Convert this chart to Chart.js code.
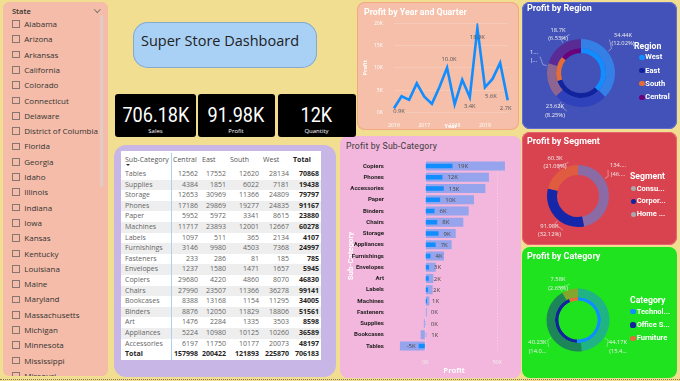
<!DOCTYPE html>
<html>
<head>
<meta charset="utf-8">
<script src="https://cdn.jsdelivr.net/npm/chart.js@4.4.1/dist/chart.umd.min.js"></script>
<style>
html,body{margin:0;padding:0}
body{width:680px;height:381px;background:#f1de91;position:relative;overflow:hidden;font-family:"Open Sans",sans-serif}
.p{position:absolute;box-sizing:border-box;overflow:hidden}
.t{position:absolute;white-space:nowrap}
canvas{position:absolute;left:0;top:0}
.wt{font-family:Roboto,sans-serif;font-weight:bold;color:#fff}
</style>
</head>
<body>
<div id="slicer" class="p" style="left:3px;top:2px;width:105px;height:374px;background:#f5bda9;border-radius:6px;"></div>
<div id="titlebox" class="p" style="left:133px;top:22px;width:184px;height:46px;background:#a9d1f6;box-shadow:inset 0 0 0 1px #86a9cc;border-radius:15px;"><div class="t" style="left:8px;top:8.5px;font-size:14.5px;line-height:20px;color:#222">Super Store Dashboard</div></div>
<div id="matrixPanel" class="p" style="left:114px;top:145px;width:222px;height:232px;background:#c8b7e6;border-radius:12px;"></div>
<div id="linePanel" class="p" style="left:357px;top:2px;width:162px;height:128px;background:#f5bfa9;box-shadow:inset 0 0 0 1px #f1a983;border-radius:8px"><canvas id="lineC" width="162" height="128"></canvas><div class="t wt" style="left:7px;top:3.7px;font-size:8.8px;line-height:12px">Profit by Year and Quarter</div></div>
<div id="barPanel" class="p" style="left:340px;top:136px;width:181px;height:242px;background:#f3b6dc;border-radius:8px"><canvas id="barC" width="180" height="226" style="top:16px"></canvas><div class="t" style="left:6px;top:4.2px;font-family:Roboto,sans-serif;font-size:8.7px;line-height:12px;color:#3a3a3a;letter-spacing:0.2px">Profit by Sub-Category</div></div>
<div id="regionPanel" class="p" style="left:522px;top:2px;width:155px;height:127px;background:#4352b8;box-shadow:inset 0 0 0 1px #5f6ed2;border-radius:8px"><canvas id="regionC" width="155" height="127"></canvas><div class="t wt" style="left:5px;top:0px;font-size:9px;line-height:12px">Profit by Region</div></div>
<div id="segmentPanel" class="p" style="left:522px;top:132px;width:155px;height:113px;background:#d9434f;box-shadow:inset 0 0 0 1px #e46570;border-radius:8px"><canvas id="segmentC" width="155" height="113"></canvas><div class="t wt" style="left:5px;top:3px;font-size:9px;line-height:12px">Profit by Segment</div></div>
<div id="categoryPanel" class="p" style="left:522px;top:247px;width:155px;height:131px;background:#1fe31f;border-radius:8px"><canvas id="categoryC" width="155" height="131"></canvas><div class="t wt" style="left:5px;top:3px;font-size:9px;line-height:12px">Profit by Category</div></div>
<div class="p" style="left:0;top:379px;width:680px;height:2px;border-top:1px dotted #7d7a55"></div>

<script>
// ================= DATA =================
const states = ['Alabama','Arizona','Arkansas','California','Colorado','Connecticut','Delaware','District of Columbia','Florida','Georgia','Idaho','Illinois','Indiana','Iowa','Kansas','Kentucky','Louisiana','Maine','Maryland','Massachusetts','Michigan','Minnesota','Mississippi','Missouri'];

const kpiLabels = ['Sales','Profit','Quantity'];
const kpiValues = ['706.18K','91.98K','12K'];

const matrixRegions = ['Central','East','South','West'];
const matrixSubCategories = ['Tables','Supplies','Storage','Phones','Paper','Machines','Labels','Furnishings','Fasteners','Envelopes','Copiers','Chairs','Bookcases','Binders','Art','Appliances','Accessories'];
const matrixCentral = [12562,4384,12653,17186,5952,11717,1097,3146,233,1237,29680,27990,8388,8876,1476,5224,6197];
const matrixEast    = [17552,1851,30969,29869,5972,23893,511,9980,286,1580,4220,23507,13168,12050,2284,10980,11750];
const matrixSouth   = [12620,6022,11366,19277,3341,12001,365,4503,81,1471,4860,11366,1154,11829,1335,10125,10177];
const matrixWest    = [28134,7181,24809,24835,8615,12667,2134,7368,185,1657,8070,36278,11295,18806,3503,10260,20073];

const quarterLabels = ['2016 Q1','2016 Q2','2016 Q3','2016 Q4','2017 Q1','2017 Q2','2017 Q3','2017 Q4','2018 Q1','2018 Q2','2018 Q3','2018 Q4','2019 Q1','2019 Q2','2019 Q3','2019 Q4'];
const quarterProfit = [900,3600,2800,6500,3500,1900,5700,10000,1800,7300,3400,18900,5600,7500,11100,2700];
const lineYTicks = [0,5000,10000,15000,20000];

const subCategories = ['Copiers','Phones','Accessories','Paper','Binders','Chairs','Storage','Appliances','Furnishings','Envelopes','Art','Labels','Machines','Fasteners','Supplies','Bookcases','Tables'];
const subCatProfitAll = [55.3,44.2,41.7,33.8,30.1,26.4,21.1,18.3,13.0,7.2,5.6,5.1,2.8,1.0,-1.0,-3.2,-17.6];
const subCatProfitSel = [18.9,11.9,12.8,10.3,6.4,8.3,9.2,7.2,3.6,2.6,2.4,1.9,1.2,0.3,0.2,0.6,-4.6];
const barXTicks = [0,50];

const regions = ['West','East','South','Central'];
const regionProfitSel = [34.44,23.62,15.22,18.7];
const regionProfitPct = [12.02,8.25,5.31,6.53];
const regionProfitAll = [108.42,91.52,46.75,39.71];

const segments = ['Consumer','Corporate','Home Office'];
const segmentProfit = [134.12,91.98,60.3];
const segmentProfitPct = [46.83,32.12,21.05];

const categories = ['Technology','Office Supplies','Furniture'];
const categoryProfitSel = [44.17,40.23,7.58];
const categoryProfitPct = [15.42,14.05,2.65];
const categoryProfitAll = [145.45,122.49,18.45];

// ================= HTML PARTS =================
function el(parent, css, html, cls){ const d=document.createElement('div'); d.className=cls||'t'; d.style.cssText=css; if(html!==undefined) d.textContent=html; parent.appendChild(d); return d; }

// slicer
(function(){
  const sl=document.getElementById('slicer');
  el(sl,'left:9px;top:3px;font-size:7.5px;font-weight:600;line-height:12px;color:#333','State');
  el(sl,'left:91.5px;top:5px;width:3.5px;height:3.5px;border-right:1px solid #777;border-bottom:1px solid #777;transform:rotate(45deg)','');
  el(sl,'left:97px;top:13px;width:2.6px;height:172px;background:#e2cdc4;border-radius:2px','');
  states.forEach((s,i)=>{
    const cy=22+i*15.3;
    el(sl,'left:9.3px;top:'+(cy-3.9)+'px;width:7.8px;height:7.8px;box-sizing:border-box;border:1px solid #857670','');
    el(sl,'left:21.3px;top:'+(cy-6)+'px;font-size:8px;line-height:12px;color:#333',s);
  });
})();

// KPI cards
(function(){
  const box=[[115,81],[197.5,77],[277.5,78]];
  kpiValues.forEach((v,i)=>{
    const c=el(document.body,'left:'+box[i][0]+'px;top:94px;width:'+box[i][1]+'px;height:43px;background:#000;border-radius:3px','', 'p');
    const vd=el(c,'left:0;width:100%;top:9px;text-align:center;font-family:Roboto,sans-serif;font-size:21px;line-height:24px;color:#fff','');
    const sp=document.createElement('span'); sp.style.cssText='display:inline-block;transform:scaleX(0.86)'; sp.textContent=v; vd.appendChild(sp);
    el(c,'left:0;width:100%;top:32.7px;text-align:center;font-size:6px;line-height:8px;color:#fff',kpiLabels[i]);
  });
})();

// matrix
(function(){
  const mp=document.getElementById('matrixPanel');
  const rowH=10.6, headH=18, widths=[50,29,28,33,30,30];
  const nRows=matrixSubCategories.length+1;
  const tb=el(mp,'left:7px;top:6px;width:200px;height:'+(headH+nRows*rowH)+'px;background:#fff;font-size:7px;','', 'p');
  const cols=[matrixCentral,matrixEast,matrixSouth,matrixWest];
  const heads=['Sub-Category'].concat(matrixRegions,['Total']);
  let x=0;
  const xs=widths.map(w=>{const a=x; x+=w; return a;});
  heads.forEach((h,j)=>{
    el(tb,'left:'+(xs[j]+(j===0?4:2))+'px;top:2.7px;line-height:12px;color:'+(j===5?'#222':'#555')+';font-weight:'+(j===5?'bold':'normal'),h);
  });
  el(tb,'left:4.5px;top:13px;width:0;height:0;border-left:2.2px solid transparent;border-right:2.2px solid transparent;border-top:2.6px solid #333','');
  const rows=matrixSubCategories.map((s,i)=>{const vals=cols.map(c=>c[i]); return [s].concat(vals,[vals.reduce((a,b)=>a+b,0)]);});
  const tot=cols.map(c=>c.reduce((a,b)=>a+b,0));
  rows.push(['Total'].concat(tot,[tot.reduce((a,b)=>a+b,0)]));
  rows.forEach((r,i)=>{
    const top=headH+i*rowH;
    const isTot=i===rows.length-1;
    const rd=el(tb,'left:0;top:'+top+'px;width:200px;height:'+rowH+'px;background:'+((i%2===1&&!isTot)?'#eeeeee':'#fff'),'', 'p');
    r.forEach((v,j)=>{
      const bold=isTot||j===5;
      const color=bold?'#252423':'#666';
      if(j===0) el(rd,'left:4px;top:0;line-height:'+rowH+'px;color:'+color+';font-weight:'+(bold?'bold':'normal'),v);
      else el(rd,'left:'+xs[j]+'px;width:'+(widths[j]-2)+'px;text-align:right;top:0;line-height:'+rowH+'px;color:'+color+';font-weight:'+(bold?'bold':'normal'),String(v));
    });
  });
  el(tb,'left:49.5px;top:2px;width:1px;height:'+(headH+nRows*rowH-2)+'px;background:#a9d3f0','');
})();

// legends for donuts
function textW(font, s){ const c=textW.c||(textW.c=document.createElement('canvas').getContext('2d')); c.font=font; return c.measureText(s).width; }
function fitTxt(font, s, max){ if(textW(font,s)<=max) return s; let t=s; while(t.length>1 && textW(font,t+'...')>max) t=t.slice(0,-1); return t+'...'; }
function legend(panelId, title, names, colors, cfg){
  const p=document.getElementById(panelId);
  el(p,'left:'+cfg.tx+'px;top:'+(cfg.ty-6)+'px;font-family:Roboto,sans-serif;font-weight:bold;font-size:8.7px;line-height:12px;color:#fff',title);
  const f='bold 7.5px Roboto';
  names.forEach((n,i)=>{
    const y=cfg.y0+i*cfg.dy;
    el(p,'left:'+(cfg.dx-2.6)+'px;top:'+(y-2.6)+'px;width:5.2px;height:5.2px;border-radius:50%;background:'+colors[i],'');
    el(p,'left:'+cfg.lx+'px;top:'+(y-5)+'px;font-family:Roboto,sans-serif;font-weight:bold;font-size:7.5px;line-height:10px;color:#fff',fitTxt(f,n,cfg.maxW));
  });
}
legend('regionPanel','Region',regions,['#118DFF','#12239E','#E66C37','#6B007B'],{tx:112,ty:44,dx:120,lx:123.3,y0:55.3,dy:13.3,maxW:33});
legend('segmentPanel','Segment',segments,['#a9a9a9','#12239E','#a9a9a9'],{tx:108,ty:44,dx:111.3,lx:114.7,y0:56.7,dy:12.7,maxW:32});
legend('categoryPanel','Category',categories,['#118DFF','#12239E','#E66C37'],{tx:108,ty:53,dx:111,lx:114.7,y0:64.7,dy:13.3,maxW:33.5});

// ================= CHARTS =================
Chart.defaults.font.family='"Open Sans", sans-serif';
Chart.defaults.animation=false;
const kfmt=v=>(+v.toFixed(2))+'K';

const donutLabels={
  id:'donutLabels',
  afterDatasetsDraw(chart,args,o){
    if(!o||!o.pos) return;
    const ctx=chart.ctx, meta=chart.getDatasetMeta(0), ds=chart.data.datasets[0];
    ctx.save();
    ctx.font=o.font; ctx.fillStyle=o.color; ctx.strokeStyle=o.lineColor; ctx.lineWidth=0.7;
    ctx.textAlign='center'; ctx.textBaseline='middle';
    const fit=(s,max)=>{ if(ctx.measureText(s).width<=max) return s; let t=s; while(t.length>1&&ctx.measureText(t+'...').width>max) t=t.slice(0,-1); return t+'...'; };
    meta.data.forEach((arc,i)=>{
      const p=arc.getProps(['x','y','startAngle','endAngle','outerRadius'],true);
      const lx=p.x+o.pos[i][0], ly=p.y+o.pos[i][1];
      const l1=fit(kfmt(ds.data[i]),o.maxW[i][0]);
      const l2=fit('('+o.pct[i].toFixed(2)+'%)',o.maxW[i][1]);
      const w=Math.max(ctx.measureText(l1).width,ctx.measureText(l2).width);
      ctx.fillText(l1,lx,ly-o.gap); ctx.fillText(l2,lx,ly+o.gap);
      const TAU=Math.PI*2;
      let a=Math.atan2(ly-p.y,lx-p.x);
      while(a<p.startAngle) a+=TAU;
      while(a>=p.startAngle+TAU) a-=TAU;
      if(a>p.endAngle){ const dE=a-p.endAngle, dS=p.startAngle+TAU-a; a=dE<dS?p.endAngle-0.08:p.startAngle+0.08; }
      const r0=p.outerRadius+1, r1=p.outerRadius+5;
      const x0=p.x+Math.cos(a)*r0, y0=p.y+Math.sin(a)*r0, x1=p.x+Math.cos(a)*r1, y1=p.y+Math.sin(a)*r1;
      const ex=lx>p.x?lx-w/2-2:lx+w/2+2;
      ctx.beginPath(); ctx.moveTo(x0,y0); ctx.lineTo(x1,y1); ctx.lineTo(ex,ly); ctx.stroke();
    });
    ctx.restore();
  }
};
const lineLabels={
  id:'lineLabels',
  afterDatasetsDraw(chart,args,o){
    if(!o||!o.items) return;
    const ctx=chart.ctx, meta=chart.getDatasetMeta(0), ds=chart.data.datasets[0];
    ctx.save(); ctx.font=o.font; ctx.fillStyle=o.color; ctx.textAlign='center'; ctx.textBaseline='middle';
    o.items.forEach(([i,dx,dy])=>{ const pt=meta.data[i]; ctx.fillText((ds.data[i]/1000).toFixed(1)+'K',pt.x+dx,pt.y+dy); });
    ctx.restore();
  }
};
const barLabels={
  id:'barLabels',
  afterDatasetsDraw(chart,args,o){
    if(!o||!o.on) return;
    const ctx=chart.ctx, meta=chart.getDatasetMeta(0), ds=chart.data.datasets[0];
    ctx.save(); ctx.font=o.font; ctx.fillStyle=o.color; ctx.textBaseline='middle';
    meta.data.forEach((b,i)=>{ const v=ds.data[i]; const t=Math.round(v)+'K';
      if(v>=0){ctx.textAlign='left'; ctx.fillText(t,Math.max(b.x,b.base)+5,b.y+0.5);} else {ctx.textAlign='right'; ctx.fillText(t,b.x-3,b.y+0.5);} });
    ctx.restore();
  }
};
Chart.register(donutLabels,lineLabels,barLabels);

// line chart
new Chart(document.getElementById('lineC'),{
  type:'line',
  data:{labels:quarterLabels,datasets:[{label:'Profit',data:quarterProfit,borderColor:'#118dff',borderWidth:2.6,pointRadius:0,tension:0,fill:false}]},
  options:{responsive:false,animation:false,
    layout:{padding:{top:21.3,right:11.3,bottom:0,left:0}},
    plugins:{legend:{display:false},tooltip:{enabled:false},
      lineLabels:{font:'5.8px "Open Sans"',color:'#555',items:[[0,5,3],[7,2,-8],[10,0,9],[11,0,8.7],[12,6,9],[15,-2,8]]}},
    scales:{
      x:{offset:false,grid:{display:false},border:{display:false},
        ticks:{autoSkip:false,maxRotation:0,padding:1.8,color:'#fff',font:{size:5.2},callback(v,i){return i%4===0?quarterLabels[i].slice(0,4):'';}},
        title:{display:true,text:'Year',color:'#fff',font:{size:5.5,weight:'bold',lineHeight:1},padding:{top:0,bottom:0.5}},
        afterFit(s){s.height=17.7;}},
      y:{min:0,max:20000,afterBuildTicks(s){s.ticks=lineYTicks.map(v=>({value:v}));},
        ticks:{padding:11,color:'#fff',font:{size:5.2},callback:v=>v/1000+'K'},
        grid:{color:'rgba(255,255,255,0.18)',drawTicks:false},border:{display:false},
        title:{display:true,text:'Profit',color:'#fff',font:{size:5.5,weight:'bold',lineHeight:1},padding:{top:6,bottom:0}},
        afterFit(s){s.width=37;}}
    }}
});

// bar chart
new Chart(document.getElementById('barC'),{
  type:'bar',
  data:{labels:subCategories,datasets:[
    {label:'Profit (Corporate)',data:subCatProfitSel,backgroundColor:'#118dff',barPercentage:0.4,categoryPercentage:1,grouped:false,order:0},
    {label:'Profit',data:subCatProfitAll,backgroundColor:'#95a4ec',barPercentage:0.8,categoryPercentage:1,grouped:false,order:1}
  ]},
  options:{indexAxis:'y',responsive:false,animation:false,
    layout:{padding:{top:8.4,right:8.3,bottom:0,left:0}},
    plugins:{legend:{display:false},tooltip:{enabled:false},barLabels:{on:true,font:'6px "Open Sans"',color:'#444'}},
    scales:{
      x:{min:-20,max:60,afterBuildTicks(s){s.ticks=barXTicks.map(v=>({value:v}));},
        ticks:{callback:v=>v+'K',color:'#eee',font:{size:5.6},padding:7},
        grid:{color:'rgba(255,255,255,0.45)',drawTicks:false},border:{display:false,dash:[1,2]},
        title:{display:true,text:'Profit',color:'#fff',font:{size:7.6,weight:'bold',lineHeight:1},padding:{top:0,bottom:3}},
        afterFit(s){s.height=26.4;}},
      y:{grid:{display:false},border:{display:false},
        ticks:{autoSkip:false,color:'#1e1e1e',font:{size:6.1,weight:'bold',family:'Roboto'},padding:4.5},
        title:{display:true,text:'Sub-Category',color:'#fff',font:{size:7.8,weight:'bold',family:'Roboto',lineHeight:1},padding:{top:6.7,bottom:0}},
        afterFit(s){s.width=56.5;}}
    }}
});

// donuts
const labelFont='5.8px "Open Sans"';
new Chart(document.getElementById('regionC'),{
  type:'doughnut',
  data:{labels:regions,datasets:[
    {label:'Profit (Corporate)',data:regionProfitSel,backgroundColor:['#3580e6','#3042bb','#8e6590','#5a2b95'],borderWidth:0,weight:9},
    {label:'Profit',data:regionProfitAll,backgroundColor:['#118DFF','#12239E','#E66C37','#6B007B'],borderWidth:0,weight:5}
  ]},
  options:{responsive:false,animation:false,radius:34,cutout:20,
    layout:{padding:{left:25,right:62,top:37,bottom:22}},
    plugins:{legend:{display:false},tooltip:{enabled:false},
      donutLabels:{font:labelFont,color:'#eee',lineColor:'rgba(255,255,255,0.55)',gap:4.3,pct:regionProfitPct,
        pos:[[42,-33.5],[-26,38],[-47,-16.5],[-23,-38.7]],maxW:[[40,40],[40,40],[9,9],[40,40]]}}}
});
new Chart(document.getElementById('segmentC'),{
  type:'doughnut',
  data:{labels:segments,datasets:[
    {label:'Profit',data:segmentProfit,backgroundColor:['#8a6ba6','#1626a8','#e05c41'],borderWidth:0}
  ]},
  options:{responsive:false,animation:false,radius:31,cutout:21,
    layout:{padding:{left:25,right:68,top:33,bottom:18}},
    plugins:{legend:{display:false},tooltip:{enabled:false},
      donutLabels:{font:labelFont,color:'#eee',lineColor:'rgba(255,255,255,0.55)',gap:4.3,pct:segmentProfitPct,
        pos:[[40,-26],[-28.5,34.3],[-23,-33.5]],maxW:[[17,17],[40,40],[40,40]]}}}
});
new Chart(document.getElementById('categoryC'),{
  type:'doughnut',
  data:{labels:categories,datasets:[
    {label:'Profit (Corporate)',data:categoryProfitSel,backgroundColor:['#20b485','#1c8658','#84a62c'],borderWidth:0,weight:8.5},
    {label:'Profit',data:categoryProfitAll,backgroundColor:['#118DFF','#12239E','#E66C37'],borderWidth:0,weight:3.5}
  ]},
  options:{responsive:false,animation:false,radius:31.5,cutout:19.5,
    layout:{padding:{left:24.5,right:67.5,top:41.5,bottom:26.5}},
    plugins:{legend:{display:false},tooltip:{enabled:false},
      donutLabels:{font:labelFont,color:'#eee',lineColor:'rgba(255,255,255,0.55)',gap:4.3,pct:categoryProfitPct,
        pos:[[40,27],[-40.5,27],[-20,-36]],maxW:[[40,19],[40,19],[40,40]]}}}
});
</script>
</body>
</html>
